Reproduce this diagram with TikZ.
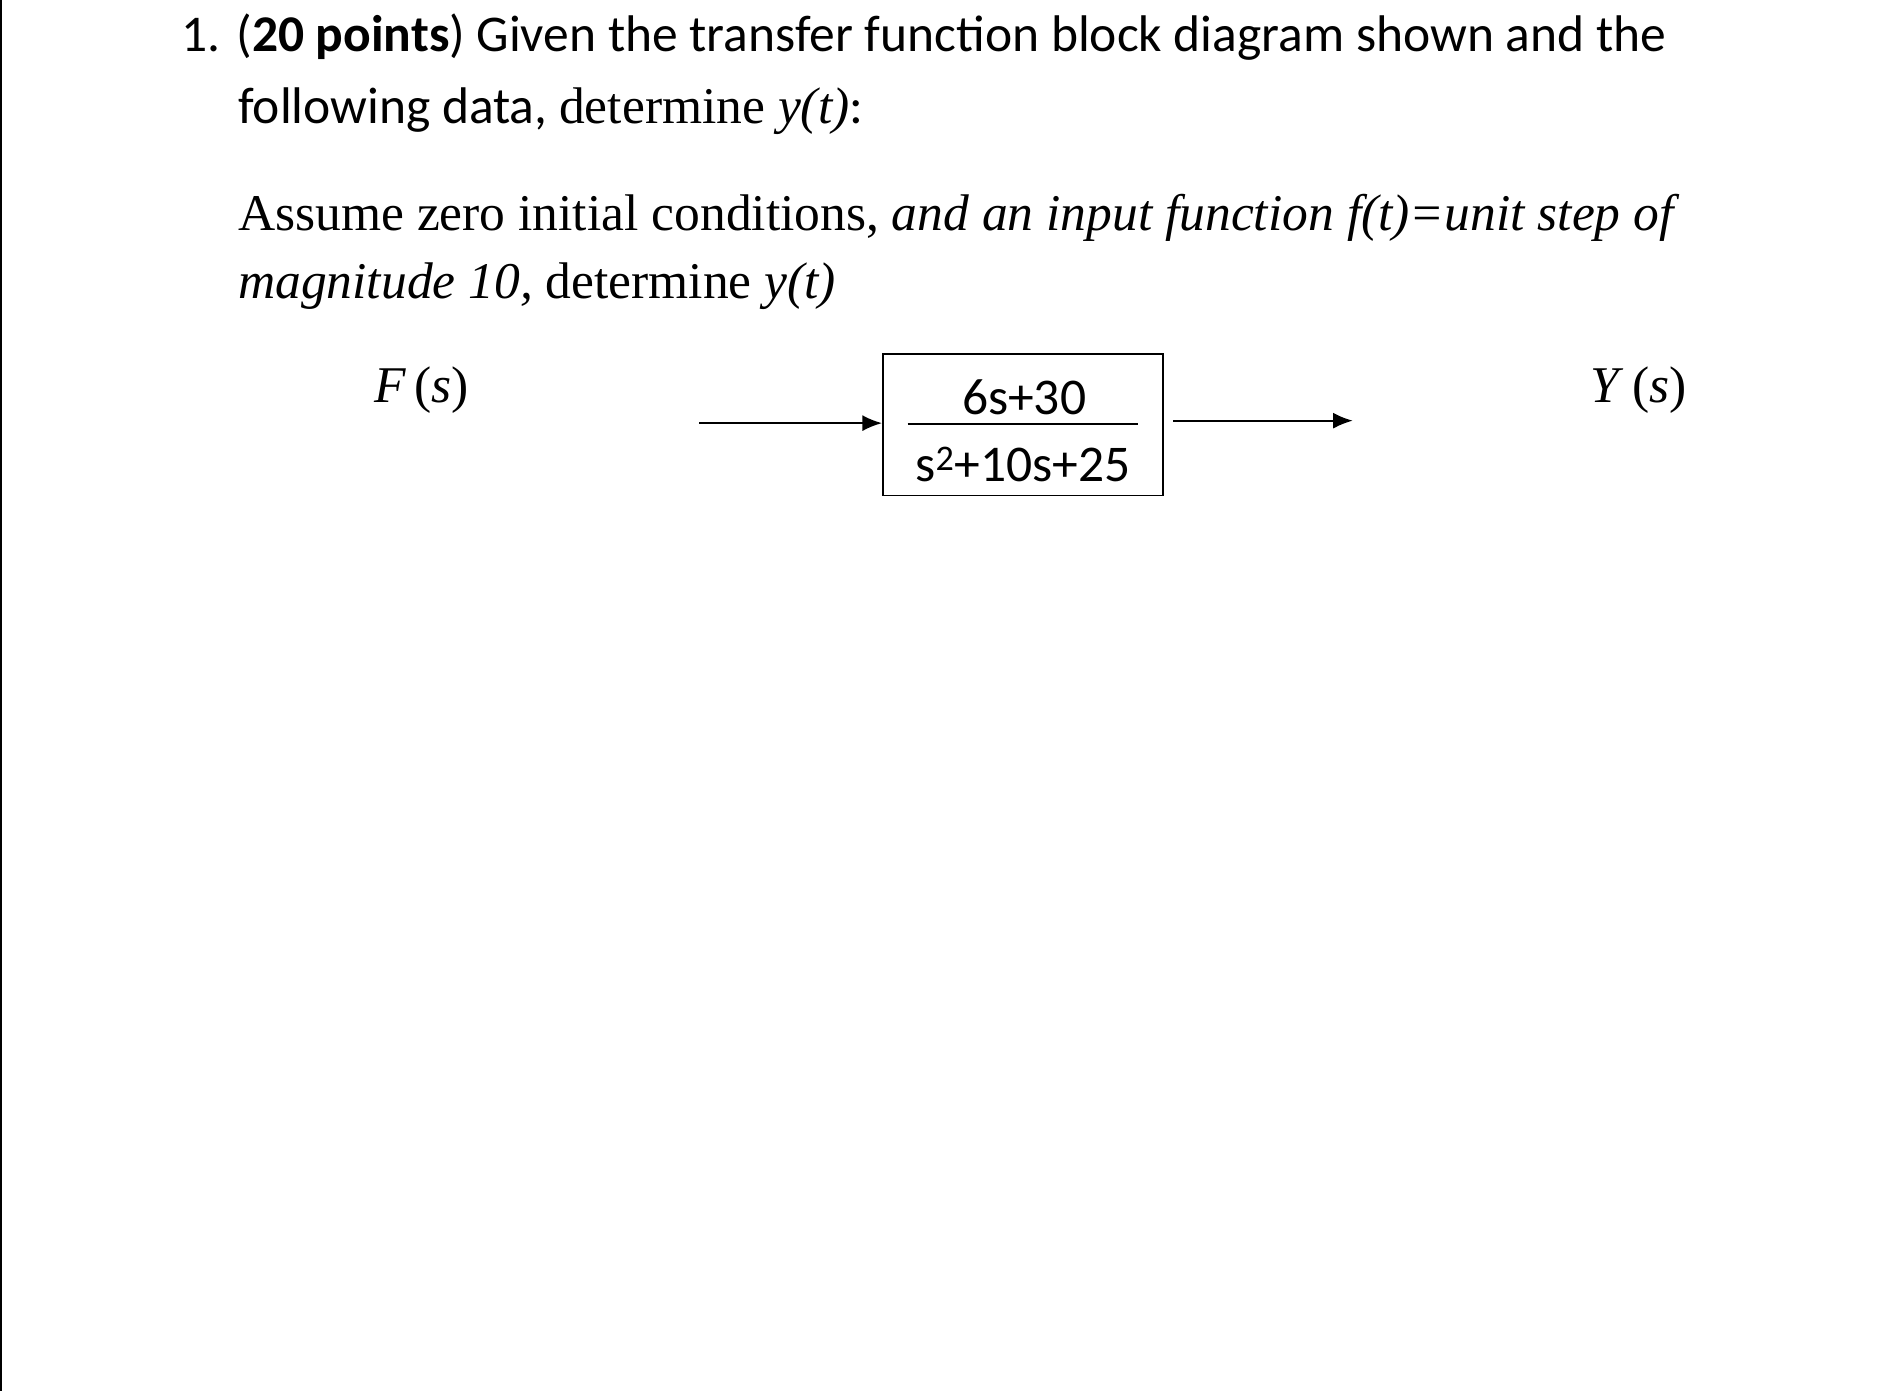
\documentclass[tikz,border=0pt]{standalone}
\usepackage{fontspec}
\usetikzlibrary{arrows.meta}
\setmainfont{Liberation Serif}
\newfontfamily\carlitofont{Carlito}
\begin{document}
\begin{tikzpicture}[x=1pt,y=-1pt,
  cal/.style={font=\fontsize{42}{46}\selectfont\carlitofont, anchor=base west, inner sep=0},
  tim/.style={font=\fontsize{42}{46}\selectfont, anchor=base west, inner sep=0},
  arr/.style={-{Latex[length=16pt,width=13pt]}, line width=1.6pt}]
\useasboundingbox (0,0) rectangle (1550,1134);
\fill[white] (0,0) rectangle (1550,1134);
\draw[line width=2pt] (1,0) -- (1,1134);
\node[cal] (l1) at (148,42) {1. (\textbf{20 points}) Given the transfer function block diagram shown and the};
\node[cal] (l2) at (194,101) {following data, {\fontsize{42}{46}\selectfont\rmfamily determine \textit{y(t)}}:};
\node[tim] (l3) at (194,188) {Assume zero initial conditions, \textit{and an input function f(t)=unit step of}};
\node[tim] (l4) at (194,243) {\textit{magnitude 10,} determine \textit{y(t)}};
\node[tim] (F) at (305,328) {\textit{F}\,(\textit{s})};
\node[tim] (Y) at (1297,328) {\textit{Y}\,(\textit{s})};
\node[draw, line width=1.6pt, minimum width=228, minimum height=115, inner sep=0] (G) at (834,346.5) {};
\node[cal, anchor=base] (num) at (835,338) {6s+30};
\node[cal, anchor=base] (den) at (834,393) {s\textsuperscript{2}+10s+25};
\draw[line width=1.6pt] (740,346) -- (928,346);
\coordinate (a0) at (570,345);
\coordinate (b1) at (1103,343);
\draw[arr] (a0) -- (G.west |- a0);
\draw[arr] (G.east |- b1) ++(8,0) -- (b1);
\end{tikzpicture}
\end{document}
